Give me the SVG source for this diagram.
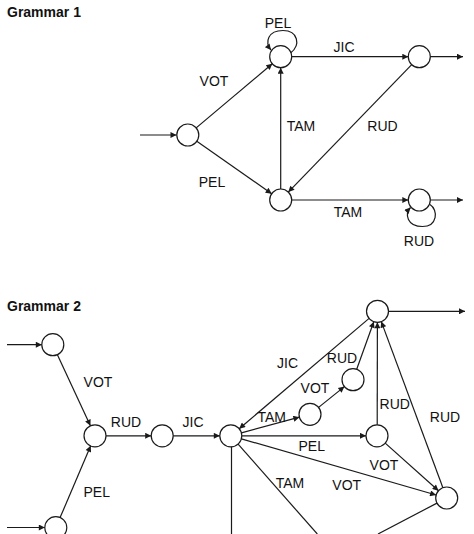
<svg xmlns="http://www.w3.org/2000/svg" width="474" height="534" viewBox="0 0 474 534">
<style>
.n{fill:#fff;stroke:#1a1a1a;stroke-width:1.2}
.e{fill:none;stroke:#1a1a1a;stroke-width:1.2;marker-end:url(#ah)}
.p{fill:none;stroke:#1a1a1a;stroke-width:1.2}
text{font-family:"Liberation Sans",Arial,sans-serif;font-size:14px;fill:#111}
.l{text-anchor:middle}
.t{font-weight:bold}
</style>
<defs>
<marker id="ah" viewBox="0 0 10 10" refX="10" refY="5" markerWidth="8" markerHeight="6" orient="auto" markerUnits="userSpaceOnUse">
<path d="M0,0 L10,5 L0,10 z" fill="#1a1a1a"/>
</marker>
</defs>
<rect width="474" height="534" fill="#fff"/>
<text class="t" x="7" y="17">Grammar 1</text>
<text class="t" x="7" y="311">Grammar 2</text>
<g id="g1-start"><circle class="n" cx="187.8" cy="135" r="11"/></g>
<g id="g1-top"><circle class="n" cx="280.7" cy="56.7" r="11"/></g>
<g id="g1-topright"><circle class="n" cx="419.3" cy="56.7" r="11"/></g>
<g id="g1-bottom"><circle class="n" cx="280.7" cy="200" r="11"/></g>
<g id="g1-bottomright"><circle class="n" cx="419.3" cy="200" r="11"/></g>
<g id="g2-a"><circle class="n" cx="52.8" cy="344.7" r="11"/></g>
<g id="g2-b"><circle class="n" cx="55.8" cy="527.7" r="11"/></g>
<g id="g2-c"><circle class="n" cx="95" cy="435.8" r="11"/></g>
<g id="g2-d"><circle class="n" cx="162.2" cy="435.8" r="11"/></g>
<g id="g2-e"><circle class="n" cx="230.8" cy="435.8" r="11"/></g>
<g id="g2-f"><circle class="n" cx="377.5" cy="311.3" r="11"/></g>
<g id="g2-g"><circle class="n" cx="353" cy="379.7" r="11"/></g>
<g id="g2-h"><circle class="n" cx="310" cy="414.3" r="11"/></g>
<g id="g2-i"><circle class="n" cx="377" cy="435.8" r="11"/></g>
<g id="g2-j"><circle class="n" cx="446.7" cy="498" r="11"/></g>
<g id="connectors">
<!-- Grammar 1 -->
<line class="e" x1="140" y1="135" x2="176.5" y2="135"/>
<line class="e" x1="196.2" y1="127.9" x2="272.3" y2="63.8"/>
<line class="e" x1="196.8" y1="141.3" x2="271.7" y2="193.7"/>
<line class="e" x1="280.7" y1="189" x2="280.7" y2="67.7"/>
<line class="e" x1="411.7" y1="64.6" x2="288.3" y2="192.1"/>
<line class="e" x1="291.7" y1="56.7" x2="408.3" y2="56.7"/>
<line class="e" x1="291.7" y1="200" x2="408.3" y2="200"/>
<line class="e" x1="430.3" y1="56.7" x2="463" y2="56.7"/>
<line class="e" x1="430.3" y1="200" x2="463" y2="200"/>
<path class="e" d="M290.5,53 C301,45 298,30.5 283,30.5 C268,30.5 264.5,42 271,50"/>
<path class="e" d="M430,204.5 C438.5,210 437.5,226.5 422.5,226.5 C407,226.5 404.5,214 410.5,207.5"/>
<!-- Grammar 2 -->
<line class="e" x1="7" y1="344.7" x2="41.8" y2="344.7"/>
<line class="e" x1="7" y1="527.5" x2="44.8" y2="527.5"/>
<line class="e" x1="57.4" y1="354.7" x2="90.4" y2="425.8"/>
<line class="e" x1="60.1" y1="517.6" x2="90.7" y2="445.7"/>
<line class="e" x1="106" y1="435.8" x2="151.2" y2="435.8"/>
<line class="e" x1="173.2" y1="435.8" x2="219.8" y2="435.8"/>
<line class="e" x1="369.1" y1="318.4" x2="239.2" y2="428.7"/>
<line class="e" x1="241.4" y1="432.9" x2="299.4" y2="417.2"/>
<line class="e" x1="318.6" y1="407.4" x2="344.4" y2="386.6"/>
<line class="e" x1="356.7" y1="369.3" x2="373.8" y2="321.7"/>
<line class="e" x1="377.2" y1="424.8" x2="377.4" y2="322.3"/>
<line class="e" x1="442.9" y1="487.7" x2="381.3" y2="321.6"/>
<line class="e" x1="241.8" y1="435.8" x2="366" y2="435.8"/>
<line class="e" x1="385.2" y1="443.1" x2="438.5" y2="490.7"/>
<line class="e" x1="241.4" y1="438.8" x2="436.1" y2="495"/>
<line class="e" x1="388.5" y1="311.3" x2="465" y2="311.3"/>
<line class="p" x1="231.5" y1="446.8" x2="231.5" y2="534"/>
<line class="p" x1="238.1" y1="444.1" x2="317.3" y2="534"/>
<line class="p" x1="437" y1="503.1" x2="378" y2="534"/>
</g>
<g id="labels">
<text class="l" x="278" y="28">PEL</text>
<text class="l" x="344" y="51.5">JIC</text>
<text class="l" x="214" y="86">VOT</text>
<text class="l" x="301" y="130.7">TAM</text>
<text class="l" x="382.5" y="130.7">RUD</text>
<text class="l" x="212" y="186.7">PEL</text>
<text class="l" x="348" y="217">TAM</text>
<text class="l" x="419" y="246">RUD</text>
<text class="l" x="98" y="387.3">VOT</text>
<text class="l" x="126" y="427.3">RUD</text>
<text class="l" x="193" y="427.3">JIC</text>
<text class="l" x="96.7" y="497.3">PEL</text>
<text class="l" x="287.5" y="368.3">JIC</text>
<text class="l" x="342" y="363.3">RUD</text>
<text class="l" x="315" y="393.3">VOT</text>
<text class="l" x="271.7" y="421.7">TAM</text>
<text class="l" x="394.7" y="409.3">RUD</text>
<text class="l" x="445" y="421.7">RUD</text>
<text class="l" x="311.7" y="450.5">PEL</text>
<text class="l" x="384" y="470">VOT</text>
<text class="l" x="290" y="488.3">TAM</text>
<text class="l" x="346.7" y="490">VOT</text>
</g>
</svg>
